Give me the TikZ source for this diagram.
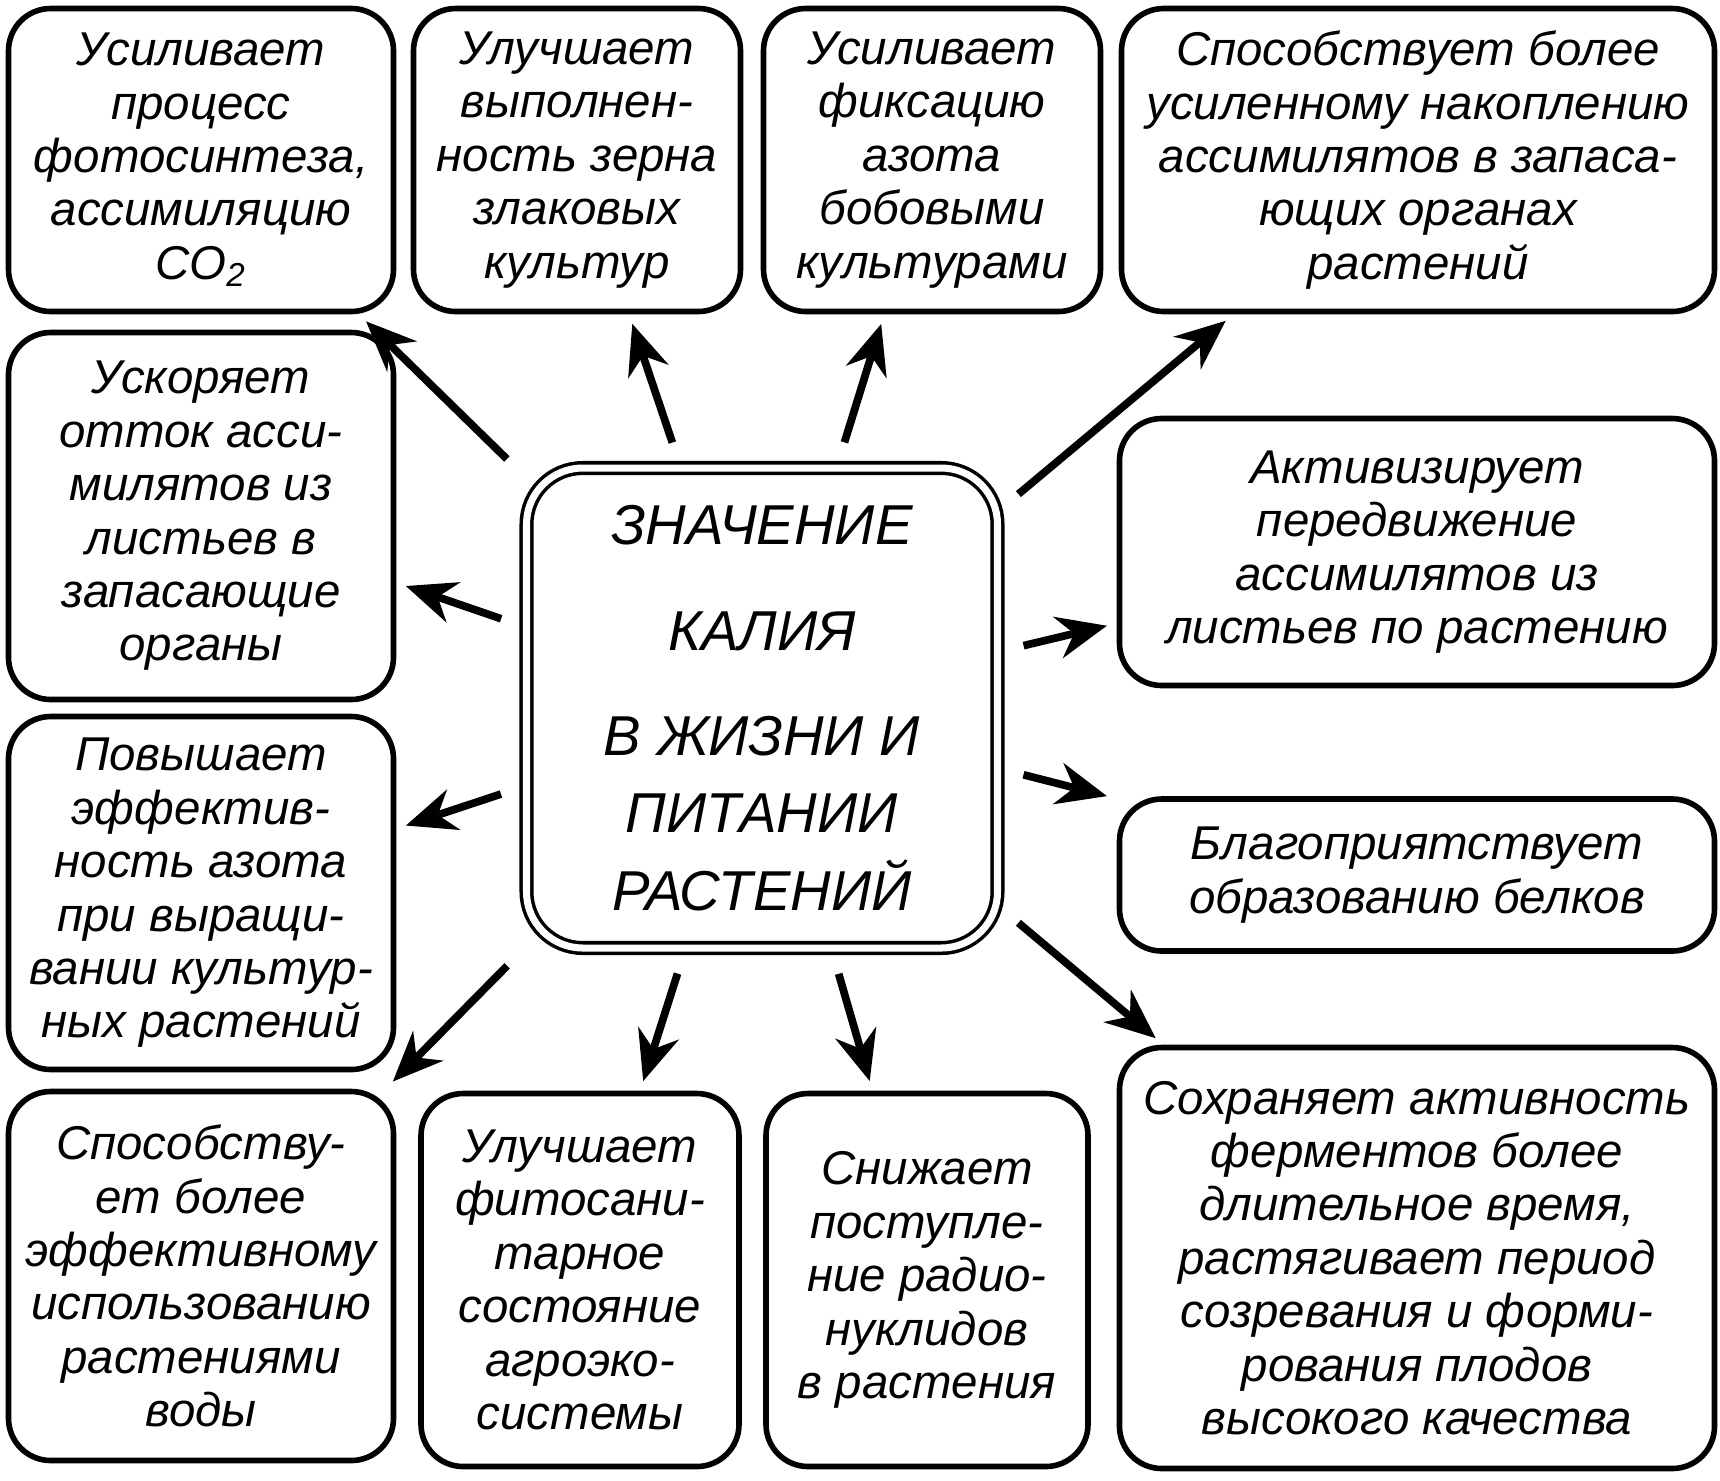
\documentclass[tikz,border=0pt]{standalone}
\usepackage{fontspec}
\setmainfont{Liberation Sans}
\usetikzlibrary{arrows.meta, positioning}

\tikzset{
  info/.style={draw, line width=1.6pt, rounded corners=12pt, align=center,
    inner sep=2pt, font=\itshape\fontsize{13.5}{15.2}\selectfont},
  core/.style={draw, double, double distance=2pt, line width=1pt, rounded corners=16pt,
    align=center, font=\itshape\fontsize{16}{22}\selectfont},
  link/.style={line width=2.2pt, -{Stealth[length=5mm,width=4.2mm]},
    shorten <=0.25cm, shorten >=0.1cm}
}

\begin{document}
\begin{tikzpicture}
	\useasboundingbox (0,0) rectangle (17.2,-14.8);
	
	\node[core, minimum width=4.71cm, minimum height=4.8cm] (C) at (7.62,-7.08)
		{ЗНАЧЕНИЕ\\[8pt] КАЛИЯ\\[8pt] В ЖИЗНИ И\\ ПИТАНИИ\\ РАСТЕНИЙ};
	
	% верхний ряд
	\node[info, minimum width=3.85cm, minimum height=3.03cm] (tA) at (2.01,-1.6)
		{Усиливает\\ процесс\\ фотосинтеза,\\ ассимиляцию\\ CO\textsubscript{2}};
	\node[info, minimum width=3.27cm, minimum height=3.03cm] (tB) at (5.77,-1.6)
		{Улучшает\\ выполнен-\\ ность зерна\\ злаковых\\ культур};
	\node[info, minimum width=3.37cm, minimum height=3.03cm] (tC) at (9.32,-1.6)
		{Усиливает\\ фиксацию\\ азота\\ бобовыми\\ культурами};
	\node[info, minimum width=5.93cm, minimum height=3.03cm] (tD) at (14.18,-1.6)
		{Способствует более\\ усиленному накоплению\\ ассимилятов в запаса-\\ ющих органах\\ растений};
	
	% левый столбец
	\node[info, minimum width=3.85cm, minimum height=3.67cm] (lA) at (2.01,-5.16)
		{Ускоряет\\ отток асси-\\ милятов из\\ листьев в\\ запасающие\\ органы};
	\node[info, minimum width=3.85cm, minimum height=3.53cm] (lB) at (2.01,-8.93)
		{Повышает\\ эффектив-\\ ность азота\\ при выращи-\\ вании культур-\\ ных растений};
	
	% правый столбец
	\node[info, minimum width=5.95cm, minimum height=2.67cm] (rA) at (14.17,-5.52)
		{Активизирует\\ передвижение\\ ассимилятов из\\ листьев по растению};
	\node[info, minimum width=5.95cm, minimum height=1.52cm] (rB) at (14.17,-8.75)
		{Благоприятствует\\ образованию белков};
	
	% нижний ряд
	\node[info, minimum width=3.85cm, minimum height=3.69cm] (bA) at (2.01,-12.76)
		{Способству-\\ ет более\\ эффективному\\ использованию\\ растениями\\ воды};
	\node[info, minimum width=3.18cm, minimum height=3.73cm] (bB) at (5.8,-12.8)
		{Улучшает\\ фитосани-\\ тарное\\ состояние\\ агроэко-\\ системы};
	\node[info, minimum width=3.22cm, minimum height=3.73cm] (bC) at (9.27,-12.8)
		{Снижает\\ поступле-\\ ние радио-\\ нуклидов\\ в растения};
	\node[info, minimum width=5.95cm, minimum height=4.21cm] (bD) at (14.17,-12.58)
		{Сохраняет активность\\ ферментов более\\ длительное время,\\ растягивает период\\ созревания и форми-\\ рования плодов\\ высокого качества};
	
	\foreach \t in {tA,tB,tC,tD,lA,lB,rA,rB,bA,bB,bC,bD}
		\draw[link] (C) -- (\t);
\end{tikzpicture}
\end{document}
